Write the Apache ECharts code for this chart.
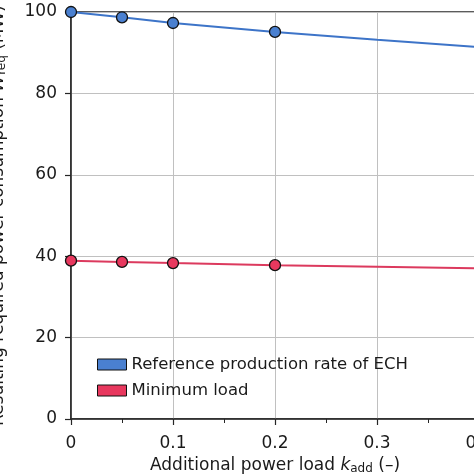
<!DOCTYPE html>
<html>
<head>
<meta charset="utf-8">
<script src="https://cdn.jsdelivr.net/npm/echarts@6/dist/echarts.min.js"></script>
<style>
html,body{margin:0;padding:0;background:#fff;}
#c{width:474px;height:474px;}
</style>
</head>
<body>
<div id="c"></div>
<script>
// Data
const kMarkers = [0, 0.05, 0.1, 0.2];
const refRate = [100, 98.7, 97.3, 95.1];
const minLoad = [38.9, 38.6, 38.3, 37.8];
const kExt = [0.3, 0.4];
const refRateExt = [93.2, 91.4];
const minLoadExt = [37.4, 37.0];
const xTicks = [0, 0.1, 0.2, 0.3, 0.4];
const yTicks = [0, 20, 40, 60, 80, 100];
const seriesNames = ['Reference production rate of ECH', 'Minimum load'];
const colors = ['#4a80d0', '#e8385e'];
const lineColors = ['#3d74c8', '#dc3a5e'];

function build(vals, ext) {
  const d = kMarkers.map((k, i) => [k, vals[i]]);
  kExt.forEach((k, i) => d.push({ value: [k, ext[i]], symbol: 'none' }));
  return d;
}

const chart = echarts.init(document.getElementById('c'), null, { renderer: 'canvas' });
const font = 'DejaVu Sans';
const txt = '#1a1a1a';
chart.setOption({
  animation: false,
  backgroundColor: '#fff',
  textStyle: { fontFamily: font },
  grid: { left: 71, top: 12, right: -5, bottom: 55, containLabel: false, outerBoundsMode: 'none',
    show: true, borderColor: '#262626', borderWidth: 1.5, backgroundColor: 'transparent' },
  legend: {
    orient: 'vertical', left: 92, top: 351, itemGap: 9, itemWidth: 29, itemHeight: 11,
    textStyle: { fontFamily: font, fontSize: 16.5, color: txt },
    data: seriesNames.map((n, i) => ({ name: n, icon: 'rect', itemStyle: { color: colors[i], borderColor: '#111', borderWidth: 1 } }))
  },
  xAxis: {
    type: 'value', min: xTicks[0], max: xTicks[xTicks.length - 1], interval: 0.1,
    name: 'Additional power load {i|k}{s|add} (–)',
    nameLocation: 'middle', nameGap: 37,
    nameTextStyle: { fontFamily: font, fontSize: 17, color: txt,
      rich: { i: { fontStyle: 'italic', fontSize: 17, fontFamily: font, color: txt },
              s: { fontSize: 12, fontFamily: font, color: txt, verticalAlign: 'bottom', padding: [6, 0, 0, 0] } } },
    axisLine: { lineStyle: { color: '#262626', width: 1.5 } },
    axisTick: { length: 6, lineStyle: { color: '#262626', width: 1.2 } },
    minorTick: { show: true, splitNumber: 2, length: 4, lineStyle: { color: '#262626', width: 1 } },
    axisLabel: { fontFamily: font, fontSize: 17, color: txt, margin: 16, showMaxLabel: true },
    splitLine: { show: true, lineStyle: { color: '#c0c0c0', width: 1 } }
  },
  yAxis: {
    type: 'value', min: yTicks[0], max: yTicks[yTicks.length - 1], interval: 20,
    name: 'Resulting required power consumption {i|W}{s|req} (MW)',
    nameLocation: 'middle', nameGap: 63, nameRotate: 90,
    nameTextStyle: { fontFamily: font, fontSize: 17, color: txt,
      rich: { i: { fontStyle: 'italic', fontSize: 17, fontFamily: font, color: txt },
              s: { fontSize: 12, fontFamily: font, color: txt, verticalAlign: 'bottom', padding: [6, 0, 0, 0] } } },
    axisLine: { show: true, lineStyle: { color: '#262626', width: 1.5 } },
    axisTick: { show: true, length: 6, lineStyle: { color: '#262626', width: 1.2 } },
    axisLabel: { fontFamily: font, fontSize: 17, color: txt, margin: 14 },
    splitLine: { show: true, lineStyle: { color: '#c0c0c0', width: 1 } }
  },
  series: [
    { name: seriesNames[0], type: 'line', data: build(refRate, refRateExt), z: 3,
      lineStyle: { color: lineColors[0], width: 2 }, symbol: 'circle', symbolSize: 11,
      itemStyle: { color: colors[0], borderColor: '#111', borderWidth: 1.3 } },
    { name: seriesNames[1], type: 'line', data: build(minLoad, minLoadExt), z: 3,
      lineStyle: { color: lineColors[1], width: 2 }, symbol: 'circle', symbolSize: 11,
      itemStyle: { color: colors[1], borderColor: '#111', borderWidth: 1.3 } }
  ]
});
</script>
</body>
</html>
